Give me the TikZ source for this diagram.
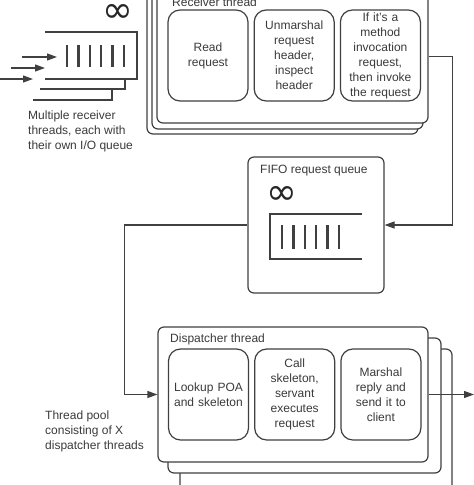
\documentclass[tikz,border=0pt]{standalone}
\usepackage{fontspec}
\setmainfont{Liberation Sans}
\newfontfamily\symfont{DejaVu Sans}
\usetikzlibrary{arrows.meta,positioning}
\definecolor{ln}{HTML}{404040}
\definecolor{txt}{HTML}{3A3A3A}
\begin{document}
\begin{tikzpicture}[x=1pt,y=-1pt,every node/.style={font=\fontsize{12}{15}\selectfont,text=txt}]
    \tikzset{
      frame/.style={draw=ln,fill=white,rounded corners=6pt,line width=1.2pt,inner sep=0pt},
      stepbox/.style={draw=ln,fill=white,rounded corners=12pt,line width=1.2pt,
        minimum width=80pt,minimum height=91pt,text width=78pt,align=center,inner sep=1pt},
      arr/.style={-{Triangle[length=10pt,width=7pt]},draw=ln,line width=1.2pt},
      qline/.style={draw=ln,line width=2pt},
      bar/.style={draw=ln,line width=2.4pt},
      inf/.style={font=\symfont\fontsize{37}{37}\selectfont,text=black!85,inner sep=0pt}
    }
    \useasboundingbox (0,0) rectangle (474,485);
    \clip (0,0) rectangle (474,485);

    % receiver threads (stacked)
    \node[frame,minimum width=271pt,minimum height=144pt] (rback) at (282.5,62) {};
    \node[frame,minimum width=271pt,minimum height=139pt] (rmid) at (287.5,59.5) {};
    \node[frame,minimum width=271pt,minimum height=133pt] (rfront) at (292.5,56.5) {};
    \node[anchor=west,inner sep=0pt] (rlabel) at (172,2) {Receiver thread};
    \node[stepbox] (read) at (208,55.5) {Read\\request};
    \node[stepbox,right=5pt of read] (unmarshal) {Unmarshal\\request\\header,\\inspect\\header};
    \node[stepbox,right=5pt of unmarshal] (invoke) {If it's a\\method\\invocation\\request,\\then invoke\\the request};

    % per thread I/O queues
    \draw[qline] (33,100) -- (112,100) -- (112,89);
    \draw[qline] (40,89) -- (125,89) -- (125,79);
    \draw[qline] (45,32) -- (137,32) -- (137,79) -- (45,79);
    \foreach \i in {0,...,5}
      \draw[bar] (67+11.4*\i,45) -- (67+11.4*\i,67);
    \node[inf] (ioinf) at (118,13) {∞};
    \coordinate (in1) at (22,57);   \coordinate (to1) at (57,57);
    \coordinate (in2) at (11,68);   \coordinate (to2) at (45,68);
    \coordinate (in3) at (0,79);    \coordinate (to3) at (33,79);
    \draw[arr] (in1) -- (to1);
    \draw[arr] (in2) -- (to2);
    \draw[arr] (in3) -- (to3);
    \node[anchor=north west,align=left,inner sep=0pt] (rnote) at (28,111)
      {Multiple receiver\\threads, each with\\their own I/O queue};

    % FIFO request queue
    \node[frame,minimum width=136pt,minimum height=136pt] (fifo) at (316,225) {};
    \node[anchor=west,inner sep=0pt] (flabel) at (260,171) {FIFO request queue};
    \node[inf] (finf) at (282,195) {∞};
    \draw[qline] (362,214) -- (270,214) -- (270,259) -- (362,259);
    \foreach \i in {0,...,5}
      \draw[bar] (282+11.4*\i,225) -- (282+11.4*\i,249);

    % dispatcher threads (stacked)
    \node[frame,minimum width=272pt,minimum height=147pt] (dback) at (316,422.5) {};
    \node[frame,minimum width=273pt,minimum height=135pt] (dmid) at (304.5,405.5) {};
    \node[frame,minimum width=270pt,minimum height=135pt] (dfront) at (293,394.5) {};
    \node[anchor=west,inner sep=0pt] (dlabel) at (170,339) {Dispatcher thread};
    \node[stepbox] (lookup) at (208.5,394.5) {Lookup POA\\and skeleton};
    \node[stepbox,right=5pt of lookup] (call) {Call\\skeleton,\\servant\\executes\\request};
    \node[stepbox,right=5pt of call] (marshal) {Marshal\\reply and\\send it to\\client};
    \node[anchor=north west,align=left,inner sep=0pt] (dnote) at (45,411)
      {Thread pool\\consisting of X\\dispatcher threads};

    % connectors
    \coordinate (out) at (474,394.5);
    \draw[arr] (rfront.east) -- ++(24,0) |- (fifo.east);
    \draw[arr] (fifo.west) -- ++(-123,0) |- (dfront.west);
    \draw[arr] (dfront.east) -- (out);
  \end{tikzpicture}
\end{document}
